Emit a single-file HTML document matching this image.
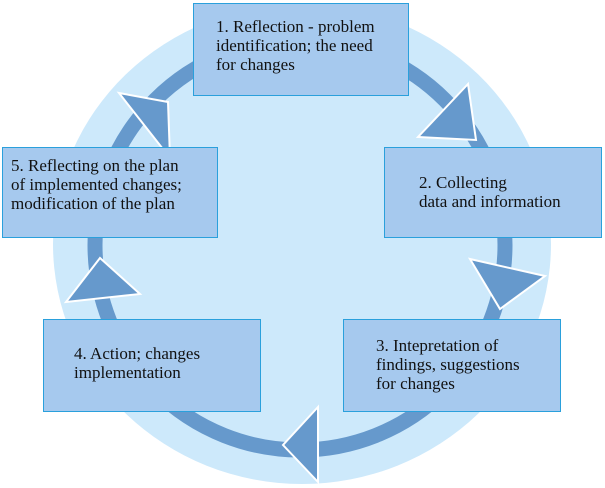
<!DOCTYPE html>
<html><head><style>
body{margin:0;width:605px;height:488px;background:#fff;position:relative;overflow:hidden;font-family:serif;}
.b{position:absolute;background:#a6c9ee;border:1px solid #2aa0dc;box-sizing:border-box;font-size:17px;line-height:19px;color:#111;}
.b div{position:absolute;white-space:nowrap;font-family:'Liberation Serif',serif;}
</style></head><body>
<svg width="605" height="488" style="position:absolute;left:0;top:0">
<ellipse cx="302" cy="244" rx="249" ry="240" fill="#cde9fb"/>
<circle cx="300" cy="245" r="205" fill="none" stroke="#6699cc" stroke-width="15"/>
<g fill="#6699cc" stroke="#fff" stroke-width="2" stroke-linejoin="miter">
<polygon points="119,93 168,102 170,158"/>
<polygon points="468,84 418,137 476,140"/>
<polygon points="470,259 545,276 500,309"/>
<polygon points="318,407 283,445 318,482"/>
<polygon points="100,258 66,302 140,294"/>
</g>
</svg>
<div class="b" style="left:193px;top:3px;width:216px;height:93px"><div style="left:22px;top:13px">1. Reflection - problem<br>identification; the need<br>for changes</div></div>
<div class="b" style="left:384px;top:147px;width:218px;height:91px"><div style="left:34px;top:25px">2. Collecting<br>data and information</div></div>
<div class="b" style="left:2px;top:147px;width:216px;height:91px"><div style="left:8px;top:8px">5. Reflecting on the plan<br>of implemented changes;<br>modification of the plan</div></div>
<div class="b" style="left:43px;top:319px;width:218px;height:93px"><div style="left:30px;top:24px">4. Action; changes<br>implementation</div></div>
<div class="b" style="left:343px;top:319px;width:218px;height:93px"><div style="left:32px;top:16px">3. Intepretation of<br>findings, suggestions<br>for changes</div></div>
</body></html>
